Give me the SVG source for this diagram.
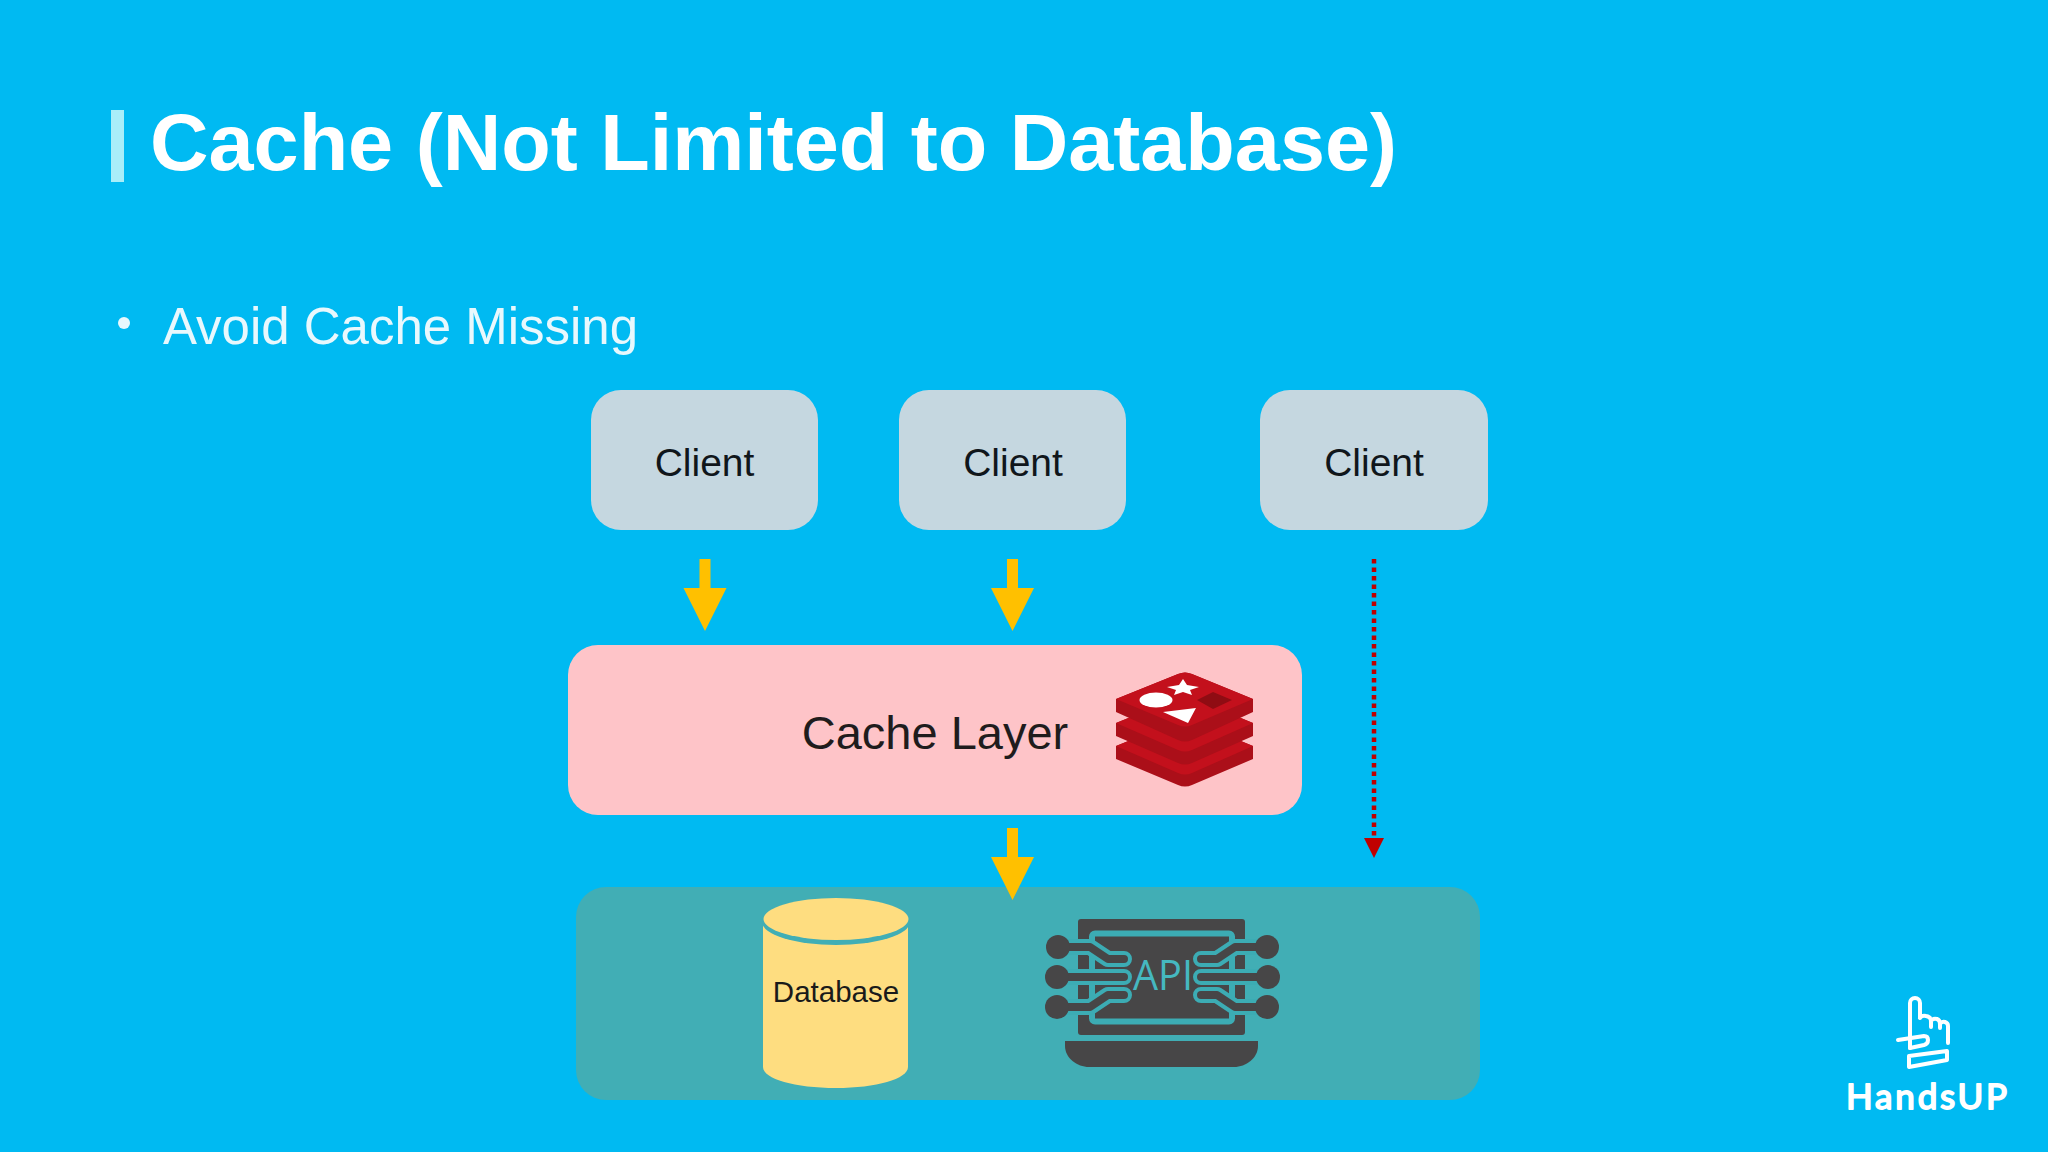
<svg xmlns="http://www.w3.org/2000/svg" width="2048" height="1152" viewBox="0 0 2048 1152">
<style>
text{font-family:"Liberation Sans",Arial,sans-serif}
.client{fill:#c5d7e0}
.lbl{fill:#10161b;text-anchor:middle}
.ya{fill:#ffc000}
.tr{fill:none;stroke-linecap:round;stroke-linejoin:round}
.trb{stroke:#3cacb4;stroke-width:16}
.trd{stroke:#474647;stroke-width:8}
.nd{fill:#474647}
.hand{fill:none;stroke:#fff;stroke-width:4;stroke-linecap:round;stroke-linejoin:round}
.rs{fill:#ab0f19}
.rf{fill:#c3101c}
</style>
<defs>
<path id="arrow" class="ya" d="M-5.5 0H5.500V29H21.500L0 72L-21.500 29H-5.500Z"/>
<path id="t" d="M1058 947H1090L1108 959H1124M1057 977H1124M1057 1007H1090L1108 995H1124"/>
<g id="traces">
<use href="#t" class="tr trb"/>
<use href="#t" class="tr trd"/>
</g>
</defs>
<rect width="2048" height="1152" fill="#00baf2"/>
<g id="title">
<rect x="111" y="110" width="13" height="72" fill="#a9eef9"/>
<text x="150" y="170" font-size="80" font-weight="700" fill="#fff" textLength="1247" lengthAdjust="spacingAndGlyphs">Cache (Not Limited to Database)</text>
</g>
<g id="bullet">
<circle cx="124" cy="323" r="6" fill="#e8f8fd"/>
<text x="163" y="344" font-size="52" fill="#e8f8fd" textLength="475" lengthAdjust="spacingAndGlyphs">Avoid Cache Missing</text>
</g>
<g id="client1"><rect class="client" x="591" y="390" width="227" height="140" rx="30"/><text class="lbl" x="704.500" y="476" font-size="39">Client</text></g>
<g id="client2"><rect class="client" x="899" y="390" width="227" height="140" rx="30"/><text class="lbl" x="1013" y="476" font-size="39">Client</text></g>
<g id="client3"><rect class="client" x="1260" y="390" width="228" height="140" rx="30"/><text class="lbl" x="1374" y="476" font-size="39">Client</text></g>
<g id="cache-layer">
<rect x="568" y="645" width="734" height="170" rx="30" fill="#fec4c8"/>
<text x="935" y="749" font-size="47" text-anchor="middle" fill="#1f1c1d">Cache Layer</text>
<g id="redis-icon">
<path class="rs" d="M1116 746L1185 718L1253 746V759L1192 785Q1185 788 1178 785L1116 759Z"/>
<path class="rf" d="M1116 746L1185 718L1253 746L1192 773Q1185 776 1178 773Z"/>
<path class="rs" d="M1116 723L1185 695L1253 723V736L1192 763Q1185 766 1178 763L1116 736Z"/>
<path class="rf" d="M1116 723L1185 695L1253 723L1192 750Q1185 753 1178 750Z"/>
<path class="rs" d="M1116 699L1178 674Q1185 671 1192 674L1253 699V712L1192 740Q1185 743 1178 740L1116 712Z"/>
<path class="rf" d="M1116 699L1178 674Q1185 671 1192 674L1253 699L1192 725Q1185 728 1178 725Z"/>
<ellipse cx="1156" cy="700" rx="16.500" ry="7.500" fill="#fff"/>
<path d="M1183 679L1187 685L1199 687L1190 690L1192 695L1183 692L1174 695L1176 690L1167 687L1179 685Z" fill="#fff"/>
<path d="M1163 712L1196 708L1188 723Z" fill="#fff"/>
<path d="M1197 700L1213 692L1232 700L1213 709Z" fill="#8f0c13"/>
</g>
</g>
<g id="backend">
<rect x="576" y="887" width="904" height="213" rx="30" fill="#41aeb5"/>
</g>
<g id="database">
<path d="M763 919V1067C763 1079 795 1088 836 1088C876 1088 908 1079 908 1067V919Z" fill="#fedd80"/>
<ellipse cx="836" cy="922" rx="74" ry="23" fill="#41aeb5"/>
<ellipse cx="836" cy="919" rx="72.500" ry="21" fill="#fedd80"/>
<text x="836" y="1002" font-size="29.500" text-anchor="middle" fill="#1a1a1a">Database</text>
</g>
<g id="api">
<rect x="1078" y="919" width="167" height="116" rx="3" fill="#474647"/>
<rect x="1092" y="933.500" width="140" height="88" rx="3" fill="#474647" stroke="#3cacb4" stroke-width="6"/>
<use href="#traces"/>
<use href="#traces" transform="matrix(-1 0 0 1 2325 0)"/>
<circle class="nd" cx="1058" cy="947" r="12"/><circle class="nd" cx="1057" cy="977" r="12"/><circle class="nd" cx="1057" cy="1007" r="12"/>
<circle class="nd" cx="1267" cy="947" r="12"/><circle class="nd" cx="1268" cy="977" r="12"/><circle class="nd" cx="1267" cy="1007" r="12"/>
<text x="1133" y="990" font-size="42" fill="#45b8c0" style="font-family:'Open Sans',sans-serif" font-weight="400" textLength="60" lengthAdjust="spacingAndGlyphs">API</text>
<path d="M1065 1041H1258V1046C1258 1058 1246 1067 1234 1067H1089C1077 1067 1065 1058 1065 1046Z" fill="#474647"/>
</g>
<g id="connectors">
<use href="#arrow" x="705" y="559"/>
<use href="#arrow" x="1012.500" y="559"/>
<use href="#arrow" x="1012.500" y="828"/>
<path d="M1374 559V838" fill="none" stroke="#c00000" stroke-width="4.500" stroke-dasharray="4.500 4"/>
<path d="M1364 838H1384L1374 858Z" fill="#c00000"/>
</g>
<g id="logo">
<path class="hand" d="M1910 1048V1003A5 5 0 0 1 1920 1003V1018M1920 1018Q1922 1015 1926 1016Q1931 1017 1931 1021V1027M1931 1021Q1933 1018 1937 1019Q1940 1020 1940 1024V1028M1940 1024Q1942 1021 1945 1022Q1948 1023 1948 1026V1043"/>
<path class="hand" d="M1898 1040L1924 1036Q1928 1036 1928 1040Q1928 1044 1924 1045L1910 1048"/>
<path class="hand" d="M1909 1056L1947 1051V1060L1909 1067Z"/>
<text x="1846" y="1109" font-size="35" fill="#fff" stroke="#fff" stroke-width="1.800" stroke-linejoin="round" style="font-family:Lato,sans-serif" textLength="161">HandsUP</text>
</g>
</svg>
